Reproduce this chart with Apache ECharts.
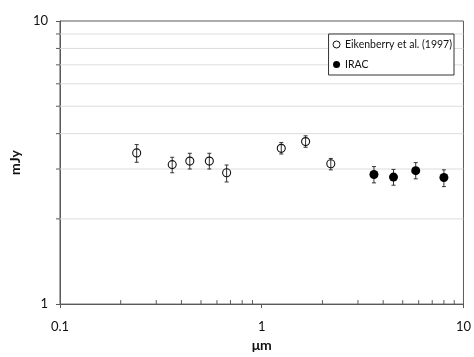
<!DOCTYPE html>
<html><head><meta charset="utf-8">
<script src="https://cdn.jsdelivr.net/npm/echarts@6/dist/echarts.min.js"></script>
<style>html,body{margin:0;padding:0;background:#fff}#c{width:474px;height:357px}</style>
</head><body><div id="c"></div>
<script>
// Eikenberry et al. (1997)
const eikX  = [0.24, 0.36, 0.44, 0.55, 0.67, 1.25, 1.65, 2.2];
const eikY  = [3.42, 3.11, 3.20, 3.20, 2.91, 3.55, 3.75, 3.13];
const eikLo = [3.17, 2.91, 3.00, 3.00, 2.70, 3.39, 3.58, 2.98];
const eikHi = [3.66, 3.30, 3.41, 3.41, 3.10, 3.72, 3.93, 3.27];
// IRAC
const iracX  = [3.6, 4.5, 5.8, 8.0];
const iracY  = [2.87, 2.81, 2.96, 2.80];
const iracLo = [2.68, 2.63, 2.77, 2.60];
const iracHi = [3.06, 2.99, 3.16, 2.98];
// minor gridlines / ticks
const yMinor = [2, 3, 4, 5, 6, 7, 8, 9];
const xMinor = [0.2, 0.3, 0.4, 0.5, 0.6, 0.7, 0.8, 0.9, 2, 3, 4, 5, 6, 7, 8, 9];
const xRange = [0.1, 10];
const yRange = [1, 10];

const AX = '#595959';
const FONT = 'Lato, "Liberation Sans", sans-serif';

function errRender(params, api) {
  const x = api.value(0);
  const lo = api.coord([x, api.value(1)]);
  const hi = api.coord([x, api.value(2)]);
  const st = {stroke: '#333', lineWidth: 1};
  return {type: 'group', children: [
    {type: 'line', shape: {x1: lo[0], y1: lo[1], x2: hi[0], y2: hi[1]}, style: st},
    {type: 'line', shape: {x1: lo[0]-2, y1: lo[1], x2: lo[0]+2, y2: lo[1]}, style: st},
    {type: 'line', shape: {x1: hi[0]-2, y1: hi[1], x2: hi[0]+2, y2: hi[1]}, style: st}
  ]};
}

const chart = echarts.init(document.getElementById('c'), null, {renderer: 'canvas'});
chart.setOption({
  animation: false,
  backgroundColor: '#fff',
  grid: {left: 46.5, right: 8, top: 21, bottom: 51, show: true, borderColor: AX, borderWidth: 1, backgroundColor: 'transparent'},
  legend: {
    orient: 'vertical', right: 20, top: 34,
    padding: [5, 2, 5, 4], itemGap: 9, itemWidth: 7, itemHeight: 7,
    borderColor: '#333', borderWidth: 1, backgroundColor: '#fff',
    textStyle: {fontFamily: FONT, fontSize: 10.5, color: '#111'},
    data: [
      {name: 'Eikenberry et al. (1997)', icon: 'circle', itemStyle: {color: '#fff', borderColor: '#111', borderWidth: 1}},
      {name: 'IRAC', icon: 'circle', itemStyle: {color: '#000'}}
    ]
  },
  xAxis: {
    type: 'log', logBase: 10, min: xRange[0], max: xRange[1],
    name: 'μm', nameLocation: 'middle', nameGap: 31,
    nameTextStyle: {fontFamily: FONT, fontSize: 14, fontWeight: 'bold', color: '#111'},
    axisLine: {lineStyle: {color: AX}},
    axisTick: {show: true, length: 4, lineStyle: {color: AX}},
    axisLabel: {fontFamily: FONT, fontSize: 13, color: '#111', margin: 16},
    splitLine: {show: false}
  },
  yAxis: {
    type: 'log', logBase: 10, min: yRange[0], max: yRange[1],
    name: 'mJy', nameLocation: 'middle', nameGap: 33,
    nameTextStyle: {fontFamily: FONT, fontSize: 14, fontWeight: 'bold', color: '#111'},
    axisLine: {lineStyle: {color: AX}},
    axisTick: {show: true, length: 4, lineStyle: {color: AX}},
    axisLabel: {fontFamily: FONT, fontSize: 13, color: '#111', margin: 12},
    splitLine: {show: false}
  },
  series: [
    {
      type: 'custom', name: 'ygrid', silent: true, z: 1, clip: false,
      data: yMinor.map(v => [1, v]),
      renderItem(params, api) {
        const cs = params.coordSys;
        const y = api.coord([api.value(0), api.value(1)])[1];
        return {type: 'group', children: [
          {type: 'line', shape: {x1: cs.x, y1: y, x2: cs.x + cs.width, y2: y}, style: {stroke: '#dcdcdc', lineWidth: 1}},
          {type: 'line', shape: {x1: cs.x - 4, y1: y, x2: cs.x, y2: y}, style: {stroke: AX, lineWidth: 1}}
        ]};
      }
    },
    {
      type: 'custom', name: 'xminor', silent: true, z: 3, clip: false,
      data: xMinor.map(v => [v, 1]),
      renderItem(params, api) {
        const cs = params.coordSys;
        const x = api.coord([api.value(0), api.value(1)])[0];
        const yb = cs.y + cs.height;
        return {type: 'line', shape: {x1: x, y1: yb, x2: x, y2: yb - 4}, style: {stroke: AX, lineWidth: 1}};
      }
    },
    {
      type: 'custom', name: 'eikErr', silent: true, z: 4,
      data: eikX.map((x, i) => [x, eikLo[i], eikHi[i]]),
      renderItem: errRender
    },
    {
      type: 'custom', name: 'iracErr', silent: true, z: 4,
      data: iracX.map((x, i) => [x, iracLo[i], iracHi[i]]),
      renderItem: errRender
    },
    {
      type: 'scatter', name: 'Eikenberry et al. (1997)', z: 5,
      symbol: 'circle', symbolSize: 8,
      itemStyle: {color: 'rgba(255,255,255,0)', borderColor: '#111', borderWidth: 1.1, opacity: 1},
      data: eikX.map((x, i) => [x, eikY[i]])
    },
    {
      type: 'scatter', name: 'IRAC', z: 5,
      symbol: 'circle', symbolSize: 9,
      itemStyle: {color: '#000', opacity: 1},
      data: iracX.map((x, i) => [x, iracY[i]])
    }
  ]
});
</script>
</body></html>
